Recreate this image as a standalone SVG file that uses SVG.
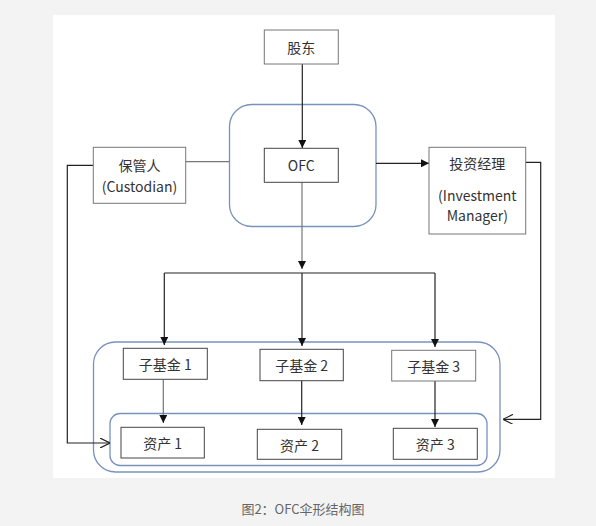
<svg xmlns="http://www.w3.org/2000/svg" width="596" height="526" viewBox="0 0 596 526">
<defs>
<style>
text{font-family:"Noto Sans CJK SC","Noto Sans",sans-serif;font-size:14px;fill:#333;text-anchor:middle;dominant-baseline:central}
.box{fill:#fff;stroke:#444;stroke-width:1}
.lbox{fill:#fff;stroke:#777;stroke-width:1}
.blue{fill:none;stroke:#7892bd;stroke-width:1.3}
.ln{fill:none;stroke:#222;stroke-width:1.2}
.gl{fill:none;stroke:#777;stroke-width:1.2}
</style>
<marker id="fa" viewBox="0 0 10 10" refX="10" refY="5" markerWidth="8" markerHeight="8" markerUnits="userSpaceOnUse" orient="auto"><path d="M0,0 L10,5 L0,10 z" fill="#111"/></marker>
<marker id="oa" viewBox="0 0 10 10" refX="10" refY="5" markerWidth="10" markerHeight="10" markerUnits="userSpaceOnUse" orient="auto"><path d="M0,0 L10,5 L0,10" fill="none" stroke="#222" stroke-width="1.2"/></marker>
</defs>
<rect x="0" y="0" width="596" height="526" fill="#f3f3f3"/>
<rect x="53" y="15" width="502" height="463" fill="#fff"/>

<g id="containers">
<rect id="ofc-container" class="blue" x="229.5" y="104.5" width="146.5" height="122" rx="22"/>
<rect id="subfund-container" class="blue" x="93.5" y="342" width="406.5" height="130" rx="22"/>
<rect id="asset-container" class="blue" x="110" y="413.5" width="377" height="52" rx="10"/>
</g>

<g id="connectors">
<path class="ln" d="M302.3,64 V148" marker-end="url(#fa)"/>
<path class="gl" d="M185.5,161.7 H229.5"/>
<path class="ln" d="M376,163.3 H429" marker-end="url(#fa)"/>
<path class="gl" d="M302,182.3 V269" marker-end="url(#fa)"/>
<path class="ln" d="M164.3,273 H435"/>
<path class="ln" d="M164.3,273 V345" marker-end="url(#fa)"/>
<path class="ln" d="M302,273 V346" marker-end="url(#fa)"/>
<path class="ln" d="M435,273 V347" marker-end="url(#fa)"/>
<path class="gl" d="M163.3,379.3 V423" marker-end="url(#fa)"/>
<path class="ln" d="M301.7,380.7 V425" marker-end="url(#fa)"/>
<path class="ln" d="M435,381 V427" marker-end="url(#fa)"/>
<path class="ln" d="M93,165.3 H67.3 V443 H110" marker-end="url(#oa)"/>
<path class="ln" d="M525.7,162.3 H540.7 V419.3 H503" marker-end="url(#oa)"/>
</g>

<g id="shareholder"><rect class="lbox" x="264.3" y="30" width="74" height="34"/><text x="301.3" y="47">股东</text></g>
<g id="ofc"><rect class="box" x="264.3" y="148.3" width="74" height="34"/><text x="301.3" y="164.5">OFC</text></g>
<g id="custodian"><rect class="lbox" x="93.3" y="147.3" width="92.4" height="56"/><text x="139.5" y="164.5">保管人</text><text x="139.5" y="186">(Custodian)</text></g>
<g id="manager"><rect class="lbox" x="429" y="147.3" width="96.7" height="86.7"/><text x="477.3" y="163.3">投资经理</text><text x="477.3" y="195">(Investment</text><text x="477.3" y="215">Manager)</text></g>

<g id="subfund1"><rect class="box" x="123.3" y="348.3" width="84" height="31"/><text x="165.3" y="364">子基金 1</text></g>
<g id="subfund2"><rect class="box" x="260" y="349.3" width="83.3" height="31.4"/><text x="301.7" y="365">子基金 2</text></g>
<g id="subfund3"><rect class="lbox" x="391.7" y="350.3" width="84" height="30.7"/><text x="433.7" y="366">子基金 3</text></g>

<g id="asset1"><rect class="box" x="121" y="427.3" width="83.3" height="30.7"/><text x="162.7" y="443">资产 1</text></g>
<g id="asset2"><rect class="box" x="257.3" y="429.3" width="84.4" height="30"/><text x="299.5" y="444.5">资产 2</text></g>
<g id="asset3"><rect class="box" x="393.3" y="428.3" width="84" height="31"/><text x="435.3" y="444">资产 3</text></g>

<text x="303" y="508" style="font-size:13px;fill:#666">图2：OFC伞形结构图</text>
</svg>
